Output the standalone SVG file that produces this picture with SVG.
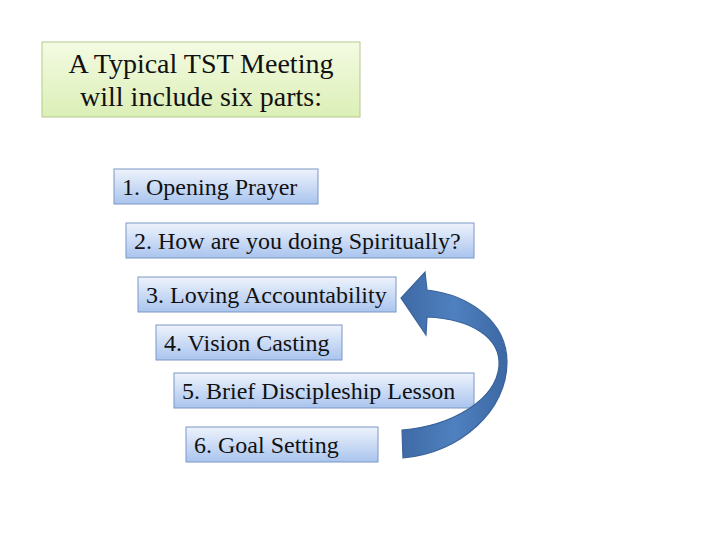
<svg xmlns="http://www.w3.org/2000/svg" width="720" height="540" viewBox="0 0 720 540">
<defs>
<linearGradient id="gGreen" x1="0" y1="0" x2="0" y2="1">
<stop offset="0" stop-color="#f4fbe3"/>
<stop offset="1" stop-color="#dcefb6"/>
</linearGradient>
<linearGradient id="gBlue" x1="0" y1="0" x2="0" y2="1">
<stop offset="0" stop-color="#eef3fc"/>
<stop offset="1" stop-color="#a9c4ee"/>
</linearGradient>
<linearGradient id="gArrow" x1="0" y1="0" x2="1" y2="0">
<stop offset="0" stop-color="#3e6aa6"/>
<stop offset="0.5" stop-color="#4f80bf"/>
<stop offset="1" stop-color="#3c68a3"/>
</linearGradient>
<style>
.title{fill:url(#gGreen);stroke:#b3c98d;stroke-width:1}
.box{fill:url(#gBlue);stroke:#7b97c6;stroke-width:1}
</style>
</defs>
<rect width="720" height="540" fill="#ffffff"/>
<g id="title" font-family="Liberation Serif, Times New Roman, serif" font-size="28" fill="#111">
<rect class="title" x="42" y="42" width="318" height="75"/>
<text x="201" y="73" text-anchor="middle">A Typical TST Meeting</text>
<text x="201" y="106" text-anchor="middle">will include six parts:</text>
</g>
<g id="step1" font-family="Liberation Serif, Times New Roman, serif" font-size="24" fill="#111">
<rect class="box" x="114" y="169" width="204" height="35"/>
<text x="122" y="195">1. Opening Prayer</text>
</g>
<g id="step2" font-family="Liberation Serif, Times New Roman, serif" font-size="24" fill="#111">
<rect class="box" x="126" y="223" width="348" height="35"/>
<text x="134" y="249">2. How are you doing Spiritually?</text>
</g>
<g id="step3" font-family="Liberation Serif, Times New Roman, serif" font-size="24" fill="#111">
<rect class="box" x="138" y="277" width="258" height="35"/>
<text x="146" y="303">3. Loving Accountability</text>
</g>
<g id="step4" font-family="Liberation Serif, Times New Roman, serif" font-size="24" fill="#111">
<rect class="box" x="156" y="325" width="186" height="35"/>
<text x="164" y="351">4. Vision Casting</text>
</g>
<g id="step5" font-family="Liberation Serif, Times New Roman, serif" font-size="24" fill="#111">
<rect class="box" x="174" y="373" width="300" height="35"/>
<text x="182" y="399">5. Brief Discipleship Lesson</text>
</g>
<g id="step6" font-family="Liberation Serif, Times New Roman, serif" font-size="24" fill="#111">
<rect class="box" x="186" y="427" width="192" height="35"/>
<text x="194" y="453">6. Goal Setting</text>
</g>
<g id="connectors">
<path d="M427,290 C470,295 507,322 507,362 C507,410 462,452 403,458 L402,430 C452,426 496,400 499,366 C501,338 472,319 427,317 L426,335 L401,298 L425,272 Z" fill="url(#gArrow)" stroke="#3a639b" stroke-width="1.2"/>
</g>
</svg>
